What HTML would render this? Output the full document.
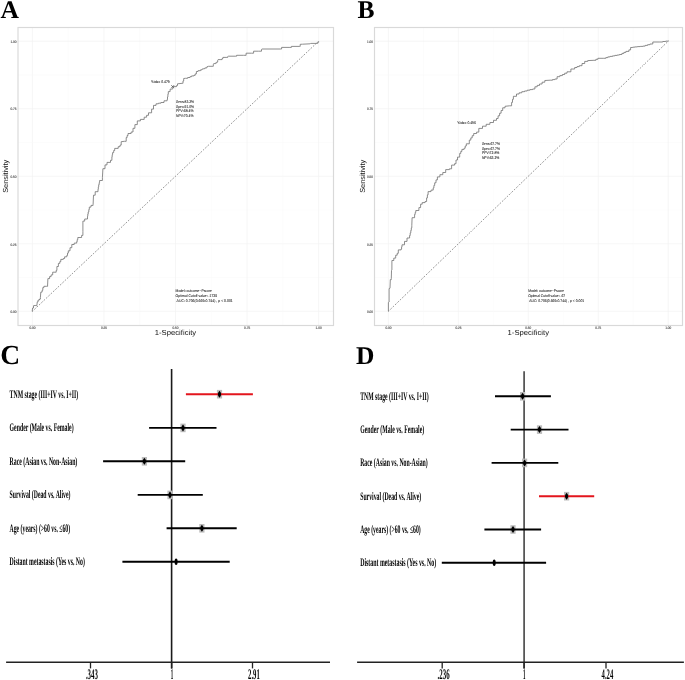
<!DOCTYPE html>
<html><head><meta charset="utf-8"><title>Figure</title>
<style>
html,body{margin:0;padding:0;background:#fff;}
body{width:685px;height:680px;overflow:hidden;}
svg{display:block;}
text{text-rendering:geometricPrecision;}
.lbl{font-family:"Liberation Serif",serif;font-weight:bold;}
.sans{font-family:"Liberation Sans",sans-serif;}
</style></head><body>
<svg width="685" height="680" viewBox="0 0 685 680">
<rect width="685" height="680" fill="#fff"/>

<line x1="32.40" y1="27.5" x2="32.40" y2="325.5" stroke="#f2f2f2" stroke-width="0.7"/>
<line x1="18" y1="311.30" x2="333.5" y2="311.30" stroke="#f2f2f2" stroke-width="0.7"/>
<line x1="68.18" y1="27.5" x2="68.18" y2="325.5" stroke="#f8f8f8" stroke-width="0.5"/>
<line x1="18" y1="277.54" x2="333.5" y2="277.54" stroke="#f8f8f8" stroke-width="0.5"/>
<line x1="103.95" y1="27.5" x2="103.95" y2="325.5" stroke="#f2f2f2" stroke-width="0.7"/>
<line x1="18" y1="243.78" x2="333.5" y2="243.78" stroke="#f2f2f2" stroke-width="0.7"/>
<line x1="139.73" y1="27.5" x2="139.73" y2="325.5" stroke="#f8f8f8" stroke-width="0.5"/>
<line x1="18" y1="210.01" x2="333.5" y2="210.01" stroke="#f8f8f8" stroke-width="0.5"/>
<line x1="175.50" y1="27.5" x2="175.50" y2="325.5" stroke="#f2f2f2" stroke-width="0.7"/>
<line x1="18" y1="176.25" x2="333.5" y2="176.25" stroke="#f2f2f2" stroke-width="0.7"/>
<line x1="211.28" y1="27.5" x2="211.28" y2="325.5" stroke="#f8f8f8" stroke-width="0.5"/>
<line x1="18" y1="142.49" x2="333.5" y2="142.49" stroke="#f8f8f8" stroke-width="0.5"/>
<line x1="247.05" y1="27.5" x2="247.05" y2="325.5" stroke="#f2f2f2" stroke-width="0.7"/>
<line x1="18" y1="108.72" x2="333.5" y2="108.72" stroke="#f2f2f2" stroke-width="0.7"/>
<line x1="282.83" y1="27.5" x2="282.83" y2="325.5" stroke="#f8f8f8" stroke-width="0.5"/>
<line x1="18" y1="74.96" x2="333.5" y2="74.96" stroke="#f8f8f8" stroke-width="0.5"/>
<line x1="318.60" y1="27.5" x2="318.60" y2="325.5" stroke="#f2f2f2" stroke-width="0.7"/>
<line x1="18" y1="41.20" x2="333.5" y2="41.20" stroke="#f2f2f2" stroke-width="0.7"/>
<rect x="18" y="27.5" width="315.5" height="298.0" fill="none" stroke="#d9d9d9" stroke-width="1.15"/>
<text class="sans" x="16.5" y="313.0" font-size="3.6" fill="#333" stroke="#333" stroke-width="0.1" text-anchor="end" textLength="6" lengthAdjust="spacingAndGlyphs">0.00</text>
<text class="sans" x="32.4" y="329.1" font-size="3.6" fill="#333" stroke="#333" stroke-width="0.1" text-anchor="middle" textLength="6" lengthAdjust="spacingAndGlyphs">0.00</text>
<text class="sans" x="16.5" y="245.5" font-size="3.6" fill="#333" stroke="#333" stroke-width="0.1" text-anchor="end" textLength="6" lengthAdjust="spacingAndGlyphs">0.25</text>
<text class="sans" x="104.0" y="329.1" font-size="3.6" fill="#333" stroke="#333" stroke-width="0.1" text-anchor="middle" textLength="6" lengthAdjust="spacingAndGlyphs">0.25</text>
<text class="sans" x="16.5" y="177.9" font-size="3.6" fill="#333" stroke="#333" stroke-width="0.1" text-anchor="end" textLength="6" lengthAdjust="spacingAndGlyphs">0.50</text>
<text class="sans" x="175.5" y="329.1" font-size="3.6" fill="#333" stroke="#333" stroke-width="0.1" text-anchor="middle" textLength="6" lengthAdjust="spacingAndGlyphs">0.50</text>
<text class="sans" x="16.5" y="110.4" font-size="3.6" fill="#333" stroke="#333" stroke-width="0.1" text-anchor="end" textLength="6" lengthAdjust="spacingAndGlyphs">0.75</text>
<text class="sans" x="247.1" y="329.1" font-size="3.6" fill="#333" stroke="#333" stroke-width="0.1" text-anchor="middle" textLength="6" lengthAdjust="spacingAndGlyphs">0.75</text>
<text class="sans" x="16.5" y="42.9" font-size="3.6" fill="#333" stroke="#333" stroke-width="0.1" text-anchor="end" textLength="6" lengthAdjust="spacingAndGlyphs">1.00</text>
<text class="sans" x="318.6" y="329.1" font-size="3.6" fill="#333" stroke="#333" stroke-width="0.1" text-anchor="middle" textLength="6" lengthAdjust="spacingAndGlyphs">1.00</text>
<line x1="32.4" y1="311.3" x2="318.6" y2="41.2" stroke="#505050" stroke-width="0.95" stroke-linecap="round" stroke-dasharray="0.05 2.35"/>
<polyline points="32.2,311.3 32.6,308.0 33.5,308.0 33.5,305.7 35.1,305.5 36.8,305.7 37.3,301.8 38.1,301.8 38.1,300.0 39.5,300.0 39.5,299.1 40.4,299.1 40.4,297.4 40.8,292.1 42.1,292.1 42.1,290.3 42.8,290.3 42.8,287.6 43.9,287.6 43.9,286.3 46.5,286.3 47.6,286.3 47.6,285.0 47.9,278.6 49.6,278.6 49.6,276.6 51.1,276.6 51.1,274.9 52.7,274.9 52.7,272.2 56.2,272.2 56.2,270.4 56.9,270.4 56.9,266.5 58.4,266.5 58.4,263.4 59.8,263.4 59.8,261.6 60.8,261.6 60.8,259.4 63.3,259.4 63.3,258.5 64.6,258.5 64.6,256.8 66.8,256.8 66.8,255.4 67.5,255.4 67.5,253.1 68.3,253.1 68.3,250.8 70.0,250.8 70.0,247.7 71.8,247.7 71.8,244.5 74.2,244.5 74.2,243.1 76.7,243.1 76.7,241.7 77.2,241.7 77.2,239.6 77.8,239.6 77.8,237.5 81.6,237.5 81.6,235.4 82.9,235.4 82.9,231.6 82.9,221.1 84.7,221.1 84.7,219.0 87.5,219.0 87.5,216.2 87.8,216.2 87.8,214.1 88.2,214.1 88.2,212.0 88.8,212.0 88.8,209.6 89.3,209.6 89.3,207.1 91.0,207.1 91.0,205.4 93.1,205.4 93.1,204.6 93.5,195.2 95.2,195.2 95.2,191.7 98.0,191.7 98.0,189.2 98.3,189.2 98.3,186.9 98.7,186.9 98.7,184.7 99.2,184.7 99.2,182.6 99.6,182.6 99.6,180.5 102.4,180.5 102.4,177.7 102.9,168.7 105.0,168.7 105.0,164.9 107.0,164.9 107.0,162.4 110.5,162.4 110.5,160.3 111.9,160.3 111.9,156.8 112.2,156.8 112.2,154.7 112.6,154.7 112.6,152.6 113.7,152.6 113.7,150.5 114.7,150.5 114.7,148.4 118.2,148.4 118.2,146.7 120.0,146.7 120.0,145.1 121.2,145.1 121.2,141.7 124.3,141.3 126.2,141.3 126.2,137.6 127.1,137.6 127.1,135.6 128.0,135.6 128.0,133.5 131.1,133.5 131.1,132.0 133.0,132.0 133.0,128.3 134.9,128.3 134.9,124.6 137.3,124.6 137.3,120.9 140.4,120.9 140.4,119.4 144.2,119.4 144.2,117.2 146.6,117.2 146.6,115.3 148.5,115.3 148.5,112.8 151.6,112.8 151.6,109.1 153.5,109.1 153.5,105.4 156.0,105.4 156.0,103.8 158.4,103.8 158.4,103.2 160.9,103.2 160.9,102.5 164.0,102.5 164.0,100.8 167.1,100.8 167.1,99.5 167.5,99.5 167.5,96.9 167.9,96.9 167.9,94.2 168.3,94.2 168.3,91.6 170.1,91.6 170.1,89.2 172.7,89.0 173.1,86.6 176.6,86.6 176.6,85.5 177.5,85.5 177.5,83.8 182.3,83.3 183.0,83.3 183.0,80.9 183.7,80.9 183.7,78.5 185.4,78.3 187.7,78.3 187.7,77.5 190.0,77.5 190.0,76.7 191.6,76.7 191.6,75.9 194.0,75.9 194.0,75.3 195.2,75.3 195.2,73.9 196.4,73.9 196.4,71.5 198.0,71.5 198.0,70.7 200.4,70.7 200.4,69.9 202.0,69.9 202.0,69.1 204.1,68.7 204.9,68.7 204.9,67.9 206.9,67.9 206.9,66.8 208.5,66.3 212.1,66.3 213.3,66.3 213.3,64.7 213.7,63.6 215.7,63.6 215.7,62.8 216.9,62.8 216.9,61.9 217.7,61.9 217.7,60.3 218.1,59.6 220.9,59.6 222.1,59.6 222.1,58.5 222.9,58.5 222.9,57.4 226.1,57.4 227.7,57.4 227.7,56.6 228.5,56.2 235.8,56.2 236.6,56.2 236.6,55.3 243.5,55.3 246.1,55.3 246.1,53.2 251.4,53.2 253.6,53.2 253.6,51.2 258.4,51.2 261.5,51.2 261.5,49.5 261.9,49.0 280.7,49.0 281.6,49.0 281.6,47.4 289.1,47.4 291.4,47.4 291.4,46.4 299.3,46.4 300.2,46.4 300.2,44.3 302.5,44.2 310.1,43.8 310.7,43.4 316.8,43.4 317.7,43.4 317.7,42.3 318.6,42.3 318.6,41.2" fill="none" stroke="#707070" stroke-width="0.8" stroke-linejoin="miter"/>
<path d="M171.2,85.1L174.2,88.1M171.2,88.1L174.2,85.1" stroke="#333" stroke-width="0.6"/>
<text class="sans" x="150.9" y="82.6" font-size="3.8" fill="#1a1a1a" stroke="#1a1a1a" stroke-width="0.06" textLength="18.8" lengthAdjust="spacingAndGlyphs">Y-idx= 0.479</text>
<text class="sans" x="176" y="102.8" font-size="3.8" fill="#1a1a1a" stroke="#1a1a1a" stroke-width="0.06" textLength="18" lengthAdjust="spacingAndGlyphs">Sens:83.2%</text>
<text class="sans" x="176" y="107.5" font-size="3.8" fill="#1a1a1a" stroke="#1a1a1a" stroke-width="0.06" textLength="18" lengthAdjust="spacingAndGlyphs">Spec:51.0%</text>
<text class="sans" x="176" y="112.2" font-size="3.8" fill="#1a1a1a" stroke="#1a1a1a" stroke-width="0.06" textLength="17.5" lengthAdjust="spacingAndGlyphs">PPV:68.4%</text>
<text class="sans" x="176" y="116.9" font-size="3.8" fill="#1a1a1a" stroke="#1a1a1a" stroke-width="0.06" textLength="17.5" lengthAdjust="spacingAndGlyphs">NPV:70.4%</text>
<text class="sans" x="175.6" y="292.1" font-size="3.8" fill="#1a1a1a" stroke="#1a1a1a" stroke-width="0.06" textLength="36.3" lengthAdjust="spacingAndGlyphs">Model: outcome~Pscore</text>
<text class="sans" x="175.6" y="297.0" font-size="3.8" fill="#1a1a1a" stroke="#1a1a1a" stroke-width="0.06" textLength="41.6" lengthAdjust="spacingAndGlyphs">Optimal Cutoff value: .1735</text>
<text class="sans" x="176.6" y="301.8" font-size="3.8" fill="#1a1a1a" stroke="#1a1a1a" stroke-width="0.06" textLength="56.2" lengthAdjust="spacingAndGlyphs"> AUC: 0.706(0.669-0.744) , p &lt; 0.001</text>
<text class="sans" x="175.5" y="335.0" font-size="7.3" fill="#111" text-anchor="middle" textLength="41.4" lengthAdjust="spacingAndGlyphs">1-Specificity</text>
<text class="sans" transform="translate(7.7,176.3) rotate(-90)" x="0" y="0" font-size="7.3" fill="#111" text-anchor="middle" textLength="33" lengthAdjust="spacingAndGlyphs">Sensitivity</text>
<text class="lbl" x="0.5" y="18" font-size="25.5" fill="#000">A</text>
<line x1="388.40" y1="27.5" x2="388.40" y2="325.5" stroke="#f2f2f2" stroke-width="0.7"/>
<line x1="374.5" y1="311.30" x2="682.5" y2="311.30" stroke="#f2f2f2" stroke-width="0.7"/>
<line x1="423.38" y1="27.5" x2="423.38" y2="325.5" stroke="#f8f8f8" stroke-width="0.5"/>
<line x1="374.5" y1="277.54" x2="682.5" y2="277.54" stroke="#f8f8f8" stroke-width="0.5"/>
<line x1="458.35" y1="27.5" x2="458.35" y2="325.5" stroke="#f2f2f2" stroke-width="0.7"/>
<line x1="374.5" y1="243.78" x2="682.5" y2="243.78" stroke="#f2f2f2" stroke-width="0.7"/>
<line x1="493.32" y1="27.5" x2="493.32" y2="325.5" stroke="#f8f8f8" stroke-width="0.5"/>
<line x1="374.5" y1="210.01" x2="682.5" y2="210.01" stroke="#f8f8f8" stroke-width="0.5"/>
<line x1="528.30" y1="27.5" x2="528.30" y2="325.5" stroke="#f2f2f2" stroke-width="0.7"/>
<line x1="374.5" y1="176.25" x2="682.5" y2="176.25" stroke="#f2f2f2" stroke-width="0.7"/>
<line x1="563.28" y1="27.5" x2="563.28" y2="325.5" stroke="#f8f8f8" stroke-width="0.5"/>
<line x1="374.5" y1="142.49" x2="682.5" y2="142.49" stroke="#f8f8f8" stroke-width="0.5"/>
<line x1="598.25" y1="27.5" x2="598.25" y2="325.5" stroke="#f2f2f2" stroke-width="0.7"/>
<line x1="374.5" y1="108.72" x2="682.5" y2="108.72" stroke="#f2f2f2" stroke-width="0.7"/>
<line x1="633.23" y1="27.5" x2="633.23" y2="325.5" stroke="#f8f8f8" stroke-width="0.5"/>
<line x1="374.5" y1="74.96" x2="682.5" y2="74.96" stroke="#f8f8f8" stroke-width="0.5"/>
<line x1="668.20" y1="27.5" x2="668.20" y2="325.5" stroke="#f2f2f2" stroke-width="0.7"/>
<line x1="374.5" y1="41.20" x2="682.5" y2="41.20" stroke="#f2f2f2" stroke-width="0.7"/>
<rect x="374.5" y="27.5" width="308.0" height="298.0" fill="none" stroke="#d9d9d9" stroke-width="1.15"/>
<text class="sans" x="373.0" y="313.0" font-size="3.6" fill="#333" stroke="#333" stroke-width="0.1" text-anchor="end" textLength="6" lengthAdjust="spacingAndGlyphs">0.00</text>
<text class="sans" x="388.4" y="329.1" font-size="3.6" fill="#333" stroke="#333" stroke-width="0.1" text-anchor="middle" textLength="6" lengthAdjust="spacingAndGlyphs">0.00</text>
<text class="sans" x="373.0" y="245.5" font-size="3.6" fill="#333" stroke="#333" stroke-width="0.1" text-anchor="end" textLength="6" lengthAdjust="spacingAndGlyphs">0.25</text>
<text class="sans" x="458.4" y="329.1" font-size="3.6" fill="#333" stroke="#333" stroke-width="0.1" text-anchor="middle" textLength="6" lengthAdjust="spacingAndGlyphs">0.25</text>
<text class="sans" x="373.0" y="177.9" font-size="3.6" fill="#333" stroke="#333" stroke-width="0.1" text-anchor="end" textLength="6" lengthAdjust="spacingAndGlyphs">0.50</text>
<text class="sans" x="528.3" y="329.1" font-size="3.6" fill="#333" stroke="#333" stroke-width="0.1" text-anchor="middle" textLength="6" lengthAdjust="spacingAndGlyphs">0.50</text>
<text class="sans" x="373.0" y="110.4" font-size="3.6" fill="#333" stroke="#333" stroke-width="0.1" text-anchor="end" textLength="6" lengthAdjust="spacingAndGlyphs">0.75</text>
<text class="sans" x="598.2" y="329.1" font-size="3.6" fill="#333" stroke="#333" stroke-width="0.1" text-anchor="middle" textLength="6" lengthAdjust="spacingAndGlyphs">0.75</text>
<text class="sans" x="373.0" y="42.9" font-size="3.6" fill="#333" stroke="#333" stroke-width="0.1" text-anchor="end" textLength="6" lengthAdjust="spacingAndGlyphs">1.00</text>
<text class="sans" x="668.2" y="329.1" font-size="3.6" fill="#333" stroke="#333" stroke-width="0.1" text-anchor="middle" textLength="6" lengthAdjust="spacingAndGlyphs">1.00</text>
<line x1="388.4" y1="311.3" x2="668.2" y2="41.2" stroke="#505050" stroke-width="0.95" stroke-linecap="round" stroke-dasharray="0.05 2.35"/>
<polyline points="388.4,311.1 388.4,302.5 389.1,302.0 389.1,288.6 390.0,288.2 390.3,279.6 391.3,279.6 391.3,278.6 391.5,270.5 391.9,270.0 391.9,260.5 393.8,260.5 393.8,258.1 395.7,258.1 395.7,255.2 397.2,255.2 397.2,253.3 398.3,253.3 398.3,249.9 401.1,249.9 401.1,249.0 401.6,249.0 401.6,246.9 402.0,246.9 402.0,244.8 404.5,244.8 404.5,241.4 407.0,241.4 407.0,238.0 409.6,238.0 409.6,235.5 410.2,235.5 410.2,232.9 410.8,232.9 410.8,230.4 411.3,230.4 411.3,227.9 411.8,227.9 411.8,225.4 412.1,217.7 414.6,217.7 414.6,214.4 415.2,214.4 415.2,212.4 415.8,212.4 415.8,210.5 418.9,210.5 418.9,207.6 420.6,207.6 420.6,204.2 422.2,204.2 422.2,202.6 425.1,202.6 425.1,201.5 426.6,201.5 426.6,197.9 427.4,197.9 427.4,194.8 428.1,194.8 428.1,191.6 431.0,191.6 431.0,190.1 433.2,190.1 433.2,187.9 433.9,187.9 433.9,185.4 434.7,185.4 434.7,182.8 436.0,182.8 436.0,179.9 437.4,179.9 437.4,176.9 439.9,176.9 439.9,174.7 442.8,174.7 442.8,172.5 445.7,172.5 445.7,169.6 449.4,169.6 449.4,168.8 451.6,168.8 451.6,165.1 454.6,165.1 454.6,163.7 456.0,163.7 456.0,160.0 457.5,160.0 457.5,157.1 459.7,157.1 459.7,153.4 460.8,153.4 460.8,151.4 461.9,151.4 461.9,149.4 464.1,149.4 464.1,148.2 465.2,148.2 465.2,146.0 466.3,146.0 466.3,143.8 469.3,143.8 469.3,140.1 470.8,140.1 470.8,137.9 472.2,137.9 472.2,135.7 473.7,135.7 473.7,133.5 476.6,133.5 476.6,132.1 478.8,132.1 478.8,128.4 482.5,128.4 482.5,126.2 486.2,126.2 486.2,124.3 489.9,124.3 489.9,122.5 493.5,122.5 493.5,120.3 496.5,120.3 496.5,118.5 498.1,118.5 498.1,115.8 499.6,115.8 499.6,113.2 501.1,113.2 501.1,110.5 502.7,110.5 502.7,107.8 505.0,107.8 505.0,106.3 509.6,105.8 511.6,105.8 511.6,102.4 512.5,102.4 512.5,99.3 513.4,99.3 513.4,96.3 516.5,96.3 516.5,94.0 519.1,94.0 519.1,92.8 521.8,92.8 521.8,91.7 524.5,91.7 524.5,91.0 527.2,91.0 527.2,90.2 529.9,90.2 529.9,89.6 532.6,89.6 532.6,89.0 534.9,89.0 534.9,86.8 537.2,86.8 537.2,85.4 539.5,85.4 539.5,84.0 542.1,84.0 542.1,82.2 544.8,82.2 544.8,80.5 550.2,80.2 552.5,80.2 552.5,79.6 554.8,79.6 554.8,79.0 557.1,79.0 557.1,76.7 559.8,76.7 559.8,75.6 562.4,75.6 562.4,74.5 564.7,74.5 564.7,73.2 567.0,73.2 567.0,71.8 570.9,71.8 570.9,69.0 574.7,69.0 574.7,67.5 577.0,67.5 577.0,66.6 579.3,66.6 579.3,65.7 582.0,65.7 582.0,63.5 584.7,63.5 584.7,61.4 587.7,61.4 587.7,60.6 593.9,60.3 595.9,60.3 595.9,59.3 597.9,59.3 597.9,58.3 603.8,58.3 605.8,58.3 605.8,57.6 607.8,57.6 607.8,56.9 610.1,56.9 610.1,56.4 612.5,56.4 612.5,55.9 614.8,55.9 614.8,55.4 617.2,55.4 617.2,55.0 619.5,55.0 619.5,54.5 621.9,54.5 621.9,53.4 623.9,53.4 623.9,52.4 625.9,52.4 625.9,51.4 628.9,51.4 628.9,49.9 630.6,49.9 630.6,47.5 632.7,47.5 632.7,47.2 634.7,47.2 634.7,46.9 637.4,46.9 637.4,46.6 640.2,46.6 640.2,46.4 642.9,46.4 642.9,46.1 645.2,46.1 645.2,45.4 647.6,45.4 647.6,44.7 649.9,44.7 649.9,44.0 652.8,44.0 652.8,42.0 659.8,42.0 662.8,42.0 662.8,41.5 665.7,41.5 665.7,41.1 668.3,41.2" fill="none" stroke="#707070" stroke-width="0.8" stroke-linejoin="miter"/>
<text class="sans" x="457.2" y="124.2" font-size="3.8" fill="#1a1a1a" stroke="#1a1a1a" stroke-width="0.06" textLength="18.6" lengthAdjust="spacingAndGlyphs">Y-idx= 0.496</text>
<text class="sans" x="481.9" y="144.7" font-size="3.8" fill="#1a1a1a" stroke="#1a1a1a" stroke-width="0.06" textLength="18" lengthAdjust="spacingAndGlyphs">Sens:67.7%</text>
<text class="sans" x="481.9" y="149.5" font-size="3.8" fill="#1a1a1a" stroke="#1a1a1a" stroke-width="0.06" textLength="18" lengthAdjust="spacingAndGlyphs">Spec:67.7%</text>
<text class="sans" x="481.9" y="153.9" font-size="3.8" fill="#1a1a1a" stroke="#1a1a1a" stroke-width="0.06" textLength="17.5" lengthAdjust="spacingAndGlyphs">PPV:72.8%</text>
<text class="sans" x="481.9" y="158.7" font-size="3.8" fill="#1a1a1a" stroke="#1a1a1a" stroke-width="0.06" textLength="17.5" lengthAdjust="spacingAndGlyphs">NPV:63.2%</text>
<text class="sans" x="528.2" y="292.1" font-size="3.8" fill="#1a1a1a" stroke="#1a1a1a" stroke-width="0.06" textLength="36" lengthAdjust="spacingAndGlyphs">Model: outcome~Pscore</text>
<text class="sans" x="528.2" y="297.0" font-size="3.8" fill="#1a1a1a" stroke="#1a1a1a" stroke-width="0.06" textLength="37" lengthAdjust="spacingAndGlyphs">Optimal Cutoff value: .67</text>
<text class="sans" x="529.2" y="301.8" font-size="3.8" fill="#1a1a1a" stroke="#1a1a1a" stroke-width="0.06" textLength="55" lengthAdjust="spacingAndGlyphs"> AUC: 0.706(0.669-0.744) , p &lt; 0.001</text>
<text class="sans" x="528.3" y="335.0" font-size="7.3" fill="#111" text-anchor="middle" textLength="41.4" lengthAdjust="spacingAndGlyphs">1-Specificity</text>
<text class="sans" transform="translate(364.5,176.3) rotate(-90)" x="0" y="0" font-size="7.3" fill="#111" text-anchor="middle" textLength="33" lengthAdjust="spacingAndGlyphs">Sensitivity</text>
<text class="lbl" x="357.5" y="18" font-size="25.5" fill="#000">B</text>
<text class="lbl" x="0.2" y="363.7" font-size="27.5" fill="#000">C</text>
<line x1="171.6" y1="369" x2="171.6" y2="668.4" stroke="#1a1a1a" stroke-width="1.6"/>
<line x1="6.1" y1="662.3" x2="330" y2="662.3" stroke="#222" stroke-width="1.6"/>
<line x1="90.5" y1="662.3" x2="90.5" y2="668.4" stroke="#222" stroke-width="1.3"/>
<text class="lbl" x="91.9" y="678.8" font-size="14.6" fill="#000" text-anchor="middle" textLength="12.0" lengthAdjust="spacingAndGlyphs">.343</text>
<line x1="171.7" y1="662.3" x2="171.7" y2="668.4" stroke="#222" stroke-width="1.3"/>
<text class="lbl" x="171.9" y="678.8" font-size="14.6" fill="#000" text-anchor="middle" textLength="2.5" lengthAdjust="spacingAndGlyphs">1</text>
<line x1="252.5" y1="662.3" x2="252.5" y2="668.4" stroke="#222" stroke-width="1.3"/>
<text class="lbl" x="253.9" y="678.8" font-size="14.6" fill="#000" text-anchor="middle" textLength="11.7" lengthAdjust="spacingAndGlyphs">2.91</text>
<text class="lbl" x="9.6" y="397.5" font-size="11.5" fill="#000" textLength="68.7" lengthAdjust="spacingAndGlyphs">TNM stage (III+IV vs. I+II)</text>
<rect x="216.9" y="389.9" width="5.2" height="8.6" fill="#bdbdbd"/>
<line x1="185.9" y1="394.2" x2="252.9" y2="394.2" stroke="#e3151d" stroke-width="1.9"/>
<path d="M219.5,390.7Q222.8,394.2 219.5,397.7Q216.2,394.2 219.5,390.7Z" fill="#000"/>
<text class="lbl" x="9.6" y="431.2" font-size="11.5" fill="#000" textLength="64.0" lengthAdjust="spacingAndGlyphs">Gender (Male vs. Female)</text>
<rect x="180.4" y="423.6" width="5.2" height="8.6" fill="#bdbdbd"/>
<line x1="149.1" y1="427.9" x2="216.5" y2="427.9" stroke="#000" stroke-width="1.9"/>
<path d="M183.0,424.4Q186.3,427.9 183.0,431.4Q179.7,427.9 183.0,424.4Z" fill="#000"/>
<text class="lbl" x="9.6" y="464.6" font-size="11.5" fill="#000" textLength="67.7" lengthAdjust="spacingAndGlyphs">Race (Asian vs. Non-Asian)</text>
<rect x="141.8" y="457.0" width="5.2" height="8.6" fill="#bdbdbd"/>
<line x1="103.1" y1="461.3" x2="185.2" y2="461.3" stroke="#000" stroke-width="1.9"/>
<path d="M144.4,457.8Q147.7,461.3 144.4,464.8Q141.1,461.3 144.4,457.8Z" fill="#000"/>
<text class="lbl" x="9.6" y="498.2" font-size="11.5" fill="#000" textLength="60.8" lengthAdjust="spacingAndGlyphs">Survival (Dead vs. Alive)</text>
<rect x="167.4" y="490.6" width="5.2" height="8.6" fill="#bdbdbd"/>
<line x1="137.7" y1="494.9" x2="202.8" y2="494.9" stroke="#000" stroke-width="1.9"/>
<path d="M170.0,491.4Q173.3,494.9 170.0,498.4Q166.7,494.9 170.0,491.4Z" fill="#000"/>
<text class="lbl" x="9.6" y="531.6" font-size="11.5" fill="#000" textLength="60.5" lengthAdjust="spacingAndGlyphs">Age (years) (&gt;60 vs. ≤60)</text>
<rect x="199.3" y="524.0" width="5.2" height="8.6" fill="#bdbdbd"/>
<line x1="166.6" y1="528.3000000000001" x2="236.7" y2="528.3000000000001" stroke="#000" stroke-width="1.9"/>
<path d="M201.9,524.8Q205.2,528.3 201.9,531.8Q198.6,528.3 201.9,524.8Z" fill="#000"/>
<text class="lbl" x="9.6" y="565.1" font-size="11.5" fill="#000" textLength="75.3" lengthAdjust="spacingAndGlyphs">Distant metastasis (Yes vs. No)</text>
<line x1="122.4" y1="561.8000000000001" x2="229.7" y2="561.8000000000001" stroke="#000" stroke-width="1.9"/>
<ellipse cx="176.1" cy="561.8" rx="1.5" ry="3.2" fill="#000"/>
<text class="lbl" x="356.0" y="363.7" font-size="25.5" fill="#000">D</text>
<line x1="524.1" y1="371.3" x2="524.1" y2="668.4" stroke="#444" stroke-width="1.6"/>
<line x1="357.1" y1="662.3" x2="683.9" y2="662.3" stroke="#222" stroke-width="1.6"/>
<line x1="442.2" y1="662.3" x2="442.2" y2="668.4" stroke="#222" stroke-width="1.3"/>
<text class="lbl" x="443.6" y="678.8" font-size="14.6" fill="#000" text-anchor="middle" textLength="12.0" lengthAdjust="spacingAndGlyphs">.236</text>
<line x1="524.1" y1="662.3" x2="524.1" y2="668.4" stroke="#222" stroke-width="1.3"/>
<text class="lbl" x="524.3" y="678.8" font-size="14.6" fill="#000" text-anchor="middle" textLength="2.5" lengthAdjust="spacingAndGlyphs">1</text>
<line x1="606.0" y1="662.3" x2="606.0" y2="668.4" stroke="#222" stroke-width="1.3"/>
<text class="lbl" x="607.4" y="678.8" font-size="14.6" fill="#000" text-anchor="middle" textLength="11.7" lengthAdjust="spacingAndGlyphs">4.24</text>
<text class="lbl" x="360.2" y="399.6" font-size="11.5" fill="#000" textLength="68.5" lengthAdjust="spacingAndGlyphs">TNM stage (III+IV vs. I+II)</text>
<rect x="520.0" y="392.0" width="5.2" height="8.6" fill="#bdbdbd"/>
<line x1="495.0" y1="396.3" x2="550.9" y2="396.3" stroke="#000" stroke-width="1.9"/>
<path d="M522.6,392.8Q525.9,396.3 522.6,399.8Q519.3,396.3 522.6,392.8Z" fill="#000"/>
<text class="lbl" x="360.2" y="432.9" font-size="11.5" fill="#000" textLength="64.0" lengthAdjust="spacingAndGlyphs">Gender (Male vs. Female)</text>
<rect x="536.9" y="425.3" width="5.2" height="8.6" fill="#bdbdbd"/>
<line x1="510.7" y1="429.59999999999997" x2="568.5" y2="429.59999999999997" stroke="#000" stroke-width="1.9"/>
<path d="M539.5,426.1Q542.8,429.6 539.5,433.1Q536.2,429.6 539.5,426.1Z" fill="#000"/>
<text class="lbl" x="360.2" y="466.2" font-size="11.5" fill="#000" textLength="67.5" lengthAdjust="spacingAndGlyphs">Race (Asian vs. Non-Asian)</text>
<rect x="522.0" y="458.6" width="5.2" height="8.6" fill="#bdbdbd"/>
<line x1="491.6" y1="462.9" x2="558.3" y2="462.9" stroke="#000" stroke-width="1.9"/>
<path d="M524.6,459.4Q527.9,462.9 524.6,466.4Q521.3,462.9 524.6,459.4Z" fill="#000"/>
<text class="lbl" x="360.2" y="499.5" font-size="11.5" fill="#000" textLength="61.0" lengthAdjust="spacingAndGlyphs">Survival (Dead vs. Alive)</text>
<rect x="564.0" y="491.9" width="5.2" height="8.6" fill="#bdbdbd"/>
<line x1="539.0" y1="496.2" x2="594.2" y2="496.2" stroke="#e3151d" stroke-width="1.9"/>
<path d="M566.6,492.7Q569.9,496.2 566.6,499.7Q563.3,496.2 566.6,492.7Z" fill="#000"/>
<text class="lbl" x="360.2" y="532.8" font-size="11.5" fill="#000" textLength="60.5" lengthAdjust="spacingAndGlyphs">Age (years) (&gt;60 vs. ≤60)</text>
<rect x="510.4" y="525.2" width="5.2" height="8.6" fill="#bdbdbd"/>
<line x1="484.4" y1="529.5" x2="541.1" y2="529.5" stroke="#000" stroke-width="1.9"/>
<path d="M513.0,526.0Q516.3,529.5 513.0,533.0Q509.7,529.5 513.0,526.0Z" fill="#000"/>
<text class="lbl" x="360.2" y="566.0" font-size="11.5" fill="#000" textLength="76.0" lengthAdjust="spacingAndGlyphs">Distant metastasis (Yes vs. No)</text>
<line x1="441.8" y1="562.7" x2="546.1" y2="562.7" stroke="#000" stroke-width="1.9"/>
<ellipse cx="494.2" cy="562.7" rx="1.5" ry="3.2" fill="#000"/>
</svg>
</body></html>
